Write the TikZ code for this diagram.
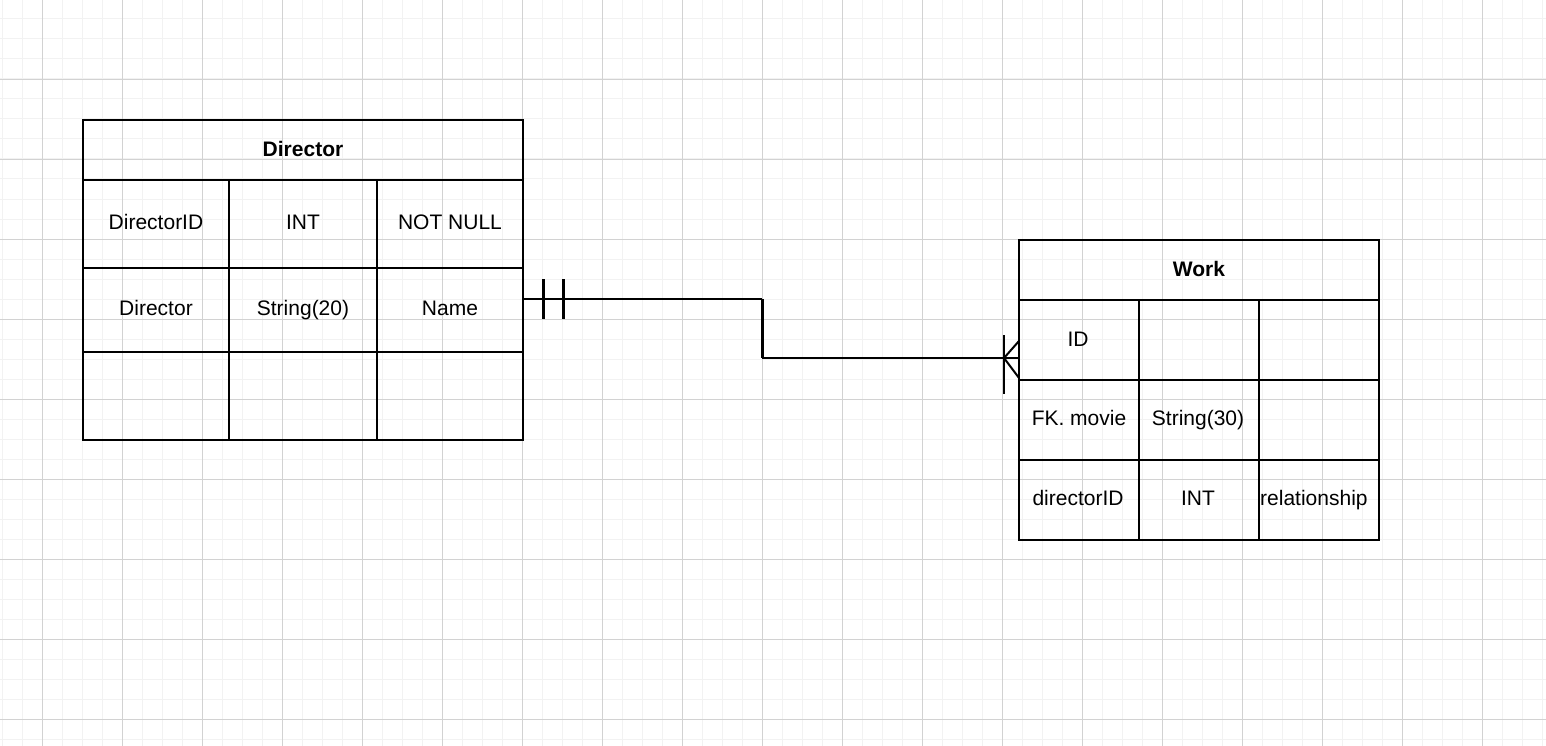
\documentclass[tikz,border=0pt]{standalone}
\usepackage{fontspec}
\setmainfont{Liberation Sans}
\begin{document}
\begin{tikzpicture}[x=1pt,y=-1pt,
  txt/.style={font=\fontsize{21}{24}\selectfont,text height=15pt,text depth=4pt,inner sep=0pt},
  ln/.style={line width=2pt,black}]
\fill[white] (0,0) rectangle (1546,746);
\useasboundingbox (0,0) rectangle (1546,746);
\foreach \x in {2,22,...,1546} \draw[gray!10,line width=1pt] (\x,0) -- (\x,746);
\foreach \y in {19,39,...,746} \draw[gray!10,line width=1pt] (0,\y) -- (1546,\y);
\foreach \x in {42,122,...,1546} \draw[gray!35,line width=0.8pt] (\x,0) -- (\x,746);
\foreach \y in {79,159,...,746} \draw[gray!35,line width=0.8pt] (0,\y) -- (1546,\y);
% Director
\draw[line width=1.5pt] (83,120) rectangle (523,440);
\foreach \y in {180,268,352} \draw[line width=1.5pt] (83,\y) -- (523,\y);
\foreach \x in {229,377} \draw[line width=1.5pt] (\x,180) -- (\x,440);
\begin{scope}[every node/.style={txt}]
\node[font=\bfseries\fontsize{21}{24}\selectfont] (dh) at (303,151) {Director};
\node (d11) at (156,224) {DirectorID};
\node (d12) at (303,224) {INT};
\node (d13) at (450,224) {NOT NULL};
\node (d21) at (156,310) {Director};
\node (d22) at (303,310) {String(20)};
\node (d23) at (450,310) {Name};
\end{scope}
% Work
\draw[line width=1.5pt] (1019,240) rectangle (1379,540);
\foreach \y in {300,380,460} \draw[line width=1.5pt] (1019,\y) -- (1379,\y);
\foreach \x in {1139,1259} \draw[line width=1.5pt] (\x,300) -- (\x,540);
\begin{scope}[every node/.style={txt}]
\node[font=\bfseries\fontsize{21}{24}\selectfont] (wh) at (1199,271) {Work};
\node (w11) at (1078,341) {ID};
\node (w21) at (1079,420) {FK. movie};
\node (w22) at (1198,420) {String(30)};
\node (w31) at (1078,500) {directorID};
\node (w32) at (1198,500) {INT};
\begin{scope}
\clip (1259,460) rectangle (1378,540);
\node[anchor=west] (w33) at (1260,500) {relationship};
\end{scope}
\end{scope}
% connector
\coordinate (a) at (523,299);
\coordinate (b) at (1019,358);
\draw[ln] (a) -- (762,299);
\draw[line width=3pt] (762,299) -- (762,358);
\draw[ln] (762,358) -- (b);
\draw[line width=3pt] (543,279) -- (543,319) (563,279) -- (563,319);
\draw[ln] (1004,335) -- (1004,394);
\draw[ln] (1019,341) -- (1004,358) -- (1019,378);
\end{tikzpicture}
\end{document}
